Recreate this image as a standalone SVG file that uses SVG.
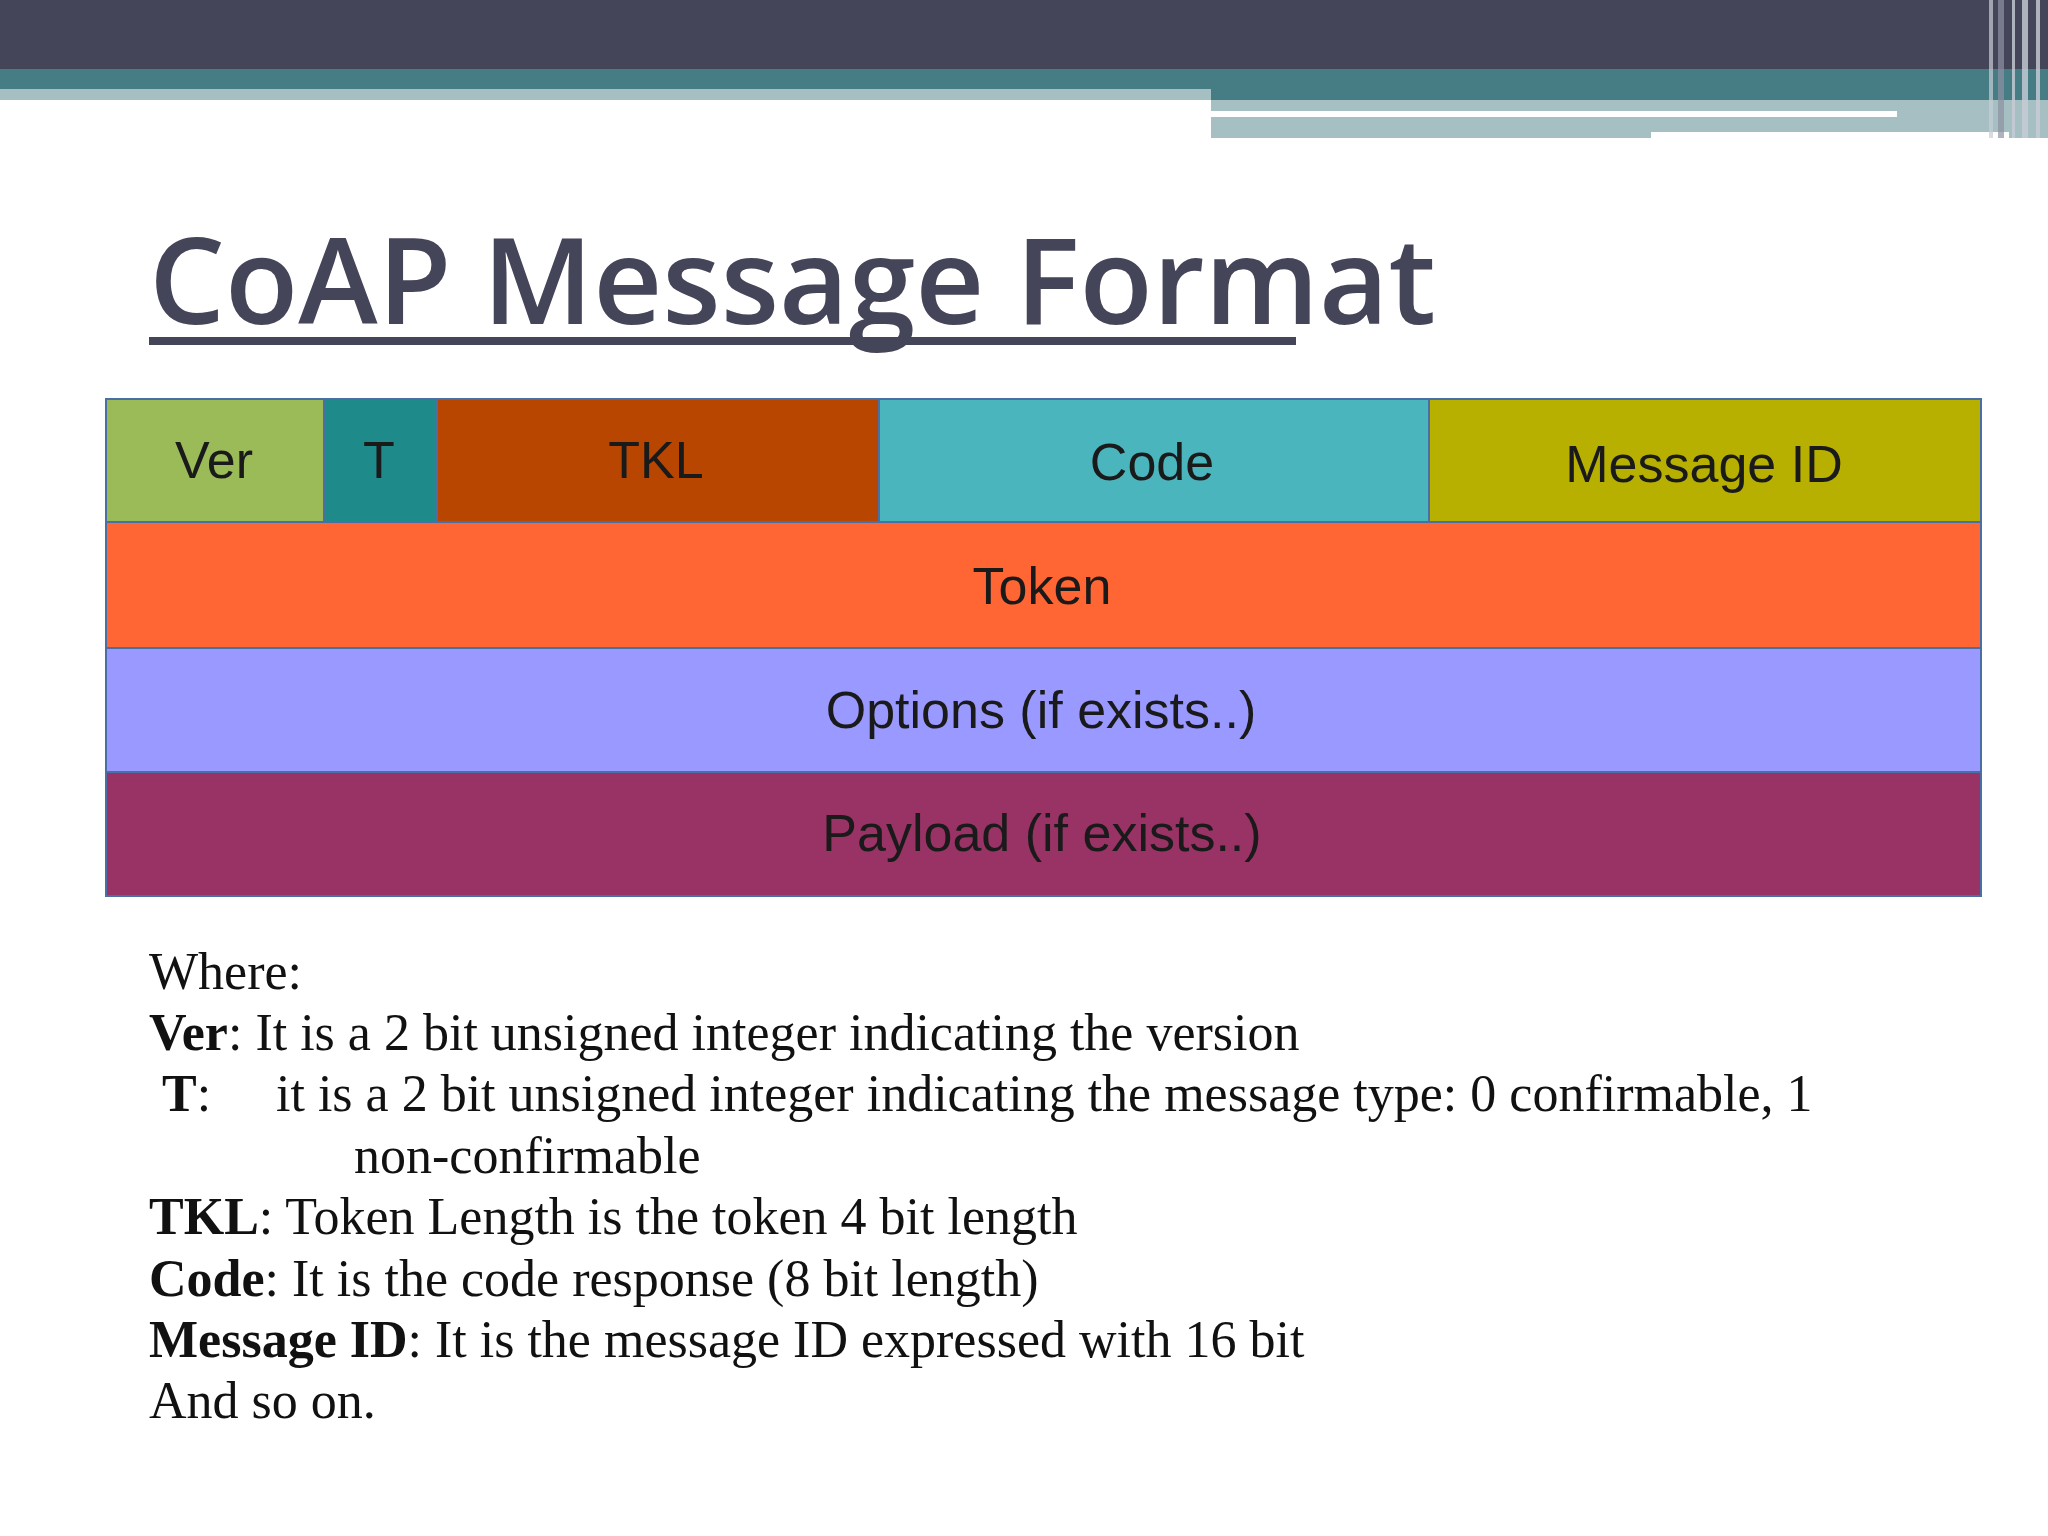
<svg xmlns="http://www.w3.org/2000/svg" width="2048" height="1536" viewBox="0 0 2048 1536">
<style>
.c{stroke:#4a6fa5;stroke-width:2}
.l{font-family:"Liberation Sans",Arial,sans-serif;font-size:52px;fill:#1a1a1a;text-anchor:middle;dominant-baseline:central}
.b{font-family:"Liberation Serif","Times New Roman",serif;font-size:52px;fill:#111}
</style>
<rect width="2048" height="1536" fill="#fff"/>
<g id="header">
<rect x="0" y="0" width="2048" height="69" fill="#45455a"/>
<rect x="0" y="69" width="2048" height="31" fill="#467d85"/>
<rect x="0" y="89" width="1211" height="11" fill="#a6bfc3"/>
<rect x="1211" y="100" width="837" height="38" fill="#a6bfc3"/>
<rect x="1211" y="111" width="686" height="6" fill="#fff"/>
<rect x="1651" y="132" width="358" height="10" fill="#fff"/>
<rect x="1989" y="0" width="4" height="138" fill="#c8cdd6" opacity="0.7"/>
<rect x="1998" y="0" width="6" height="138" fill="#8e91a3" opacity="0.7"/>
<rect x="2012" y="0" width="3" height="138" fill="#c8cdd6" opacity="0.8"/>
<rect x="2022" y="0" width="6" height="138" fill="#c8cdd6" opacity="0.8"/>
<rect x="2036" y="0" width="4" height="138" fill="#c8cdd6" opacity="0.8"/>
</g>
<g id="title">
<text x="149" y="324" font-family="'Open Sans','DejaVu Sans',sans-serif" font-size="120" font-weight="600" fill="#45455a">CoAP Message Format</text>
<rect x="149" y="337" width="1147" height="8" fill="#45455a"/>
</g>
<g id="ver"><rect class="c" x="106" y="399" width="218" height="123" fill="#9bbb59"/><text class="l" x="214" y="460">Ver</text></g>
<g id="t"><rect class="c" x="324" y="399" width="113" height="123" fill="#1f8a8a"/><text class="l" x="379" y="460">T</text></g>
<g id="tkl"><rect class="c" x="437" y="399" width="442" height="123" fill="#b94600"/><text class="l" x="656" y="460">TKL</text></g>
<g id="code"><rect class="c" x="879" y="399" width="550" height="123" fill="#4bb5bd"/><text class="l" x="1152" y="462">Code</text></g>
<g id="msgid"><rect class="c" x="1429" y="399" width="552" height="123" fill="#b8b000"/><text class="l" x="1704" y="464">Message ID</text></g>
<g id="token"><rect class="c" x="106" y="522" width="1875" height="126" fill="#ff6633"/><text class="l" x="1042" y="586">Token</text></g>
<g id="options"><rect class="c" x="106" y="648" width="1875" height="124" fill="#9999ff"/><text class="l" x="1041" y="710">Options (if exists..)</text></g>
<g id="payload"><rect class="c" x="106" y="772" width="1875" height="124" fill="#993366"/><text class="l" x="1042" y="833">Payload (if exists..)</text></g>
<g id="connectors"></g>
<g id="body" class="b">
<text x="149" y="989">Where:</text>
<text x="149" y="1050"><tspan font-weight="bold">Ver</tspan>: It is a 2 bit unsigned integer indicating the version</text>
<text x="162" y="1111"><tspan font-weight="bold">T</tspan>:</text>
<text x="276" y="1111">it is a 2 bit unsigned integer indicating the message type: 0 confirmable, 1</text>
<text x="354" y="1173">non-confirmable</text>
<text x="149" y="1234"><tspan font-weight="bold">TKL</tspan>: Token Length is the token 4 bit length</text>
<text x="149" y="1296"><tspan font-weight="bold">Code</tspan>: It is the code response (8 bit length)</text>
<text x="149" y="1357"><tspan font-weight="bold">Message ID</tspan>: It is the message ID expressed with 16 bit</text>
<text x="149" y="1418">And so on.</text>
</g>
</svg>
